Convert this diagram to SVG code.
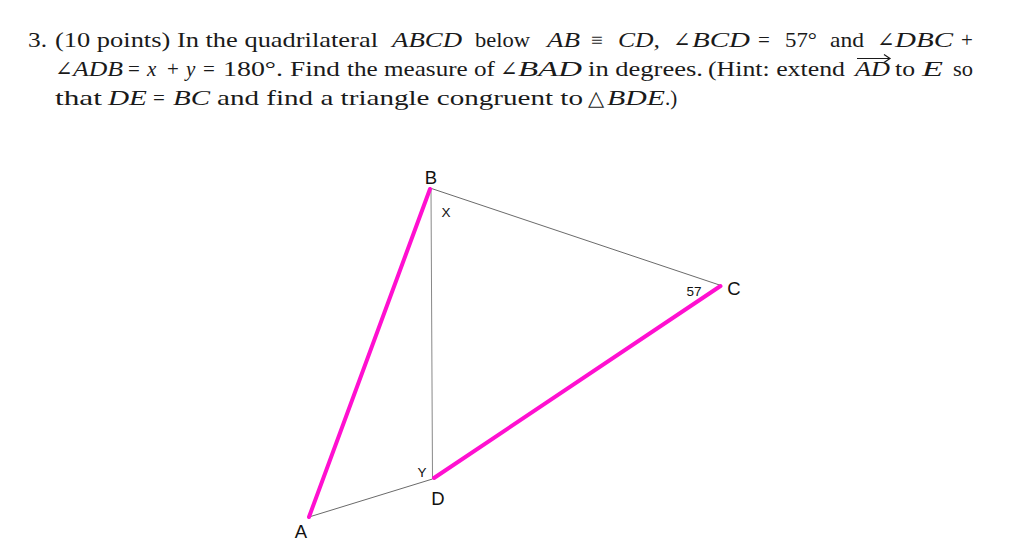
<svg xmlns="http://www.w3.org/2000/svg" width="1024" height="560" viewBox="0 0 1024 560">
<style>
.t{font-family:"Liberation Serif","DejaVu Serif",serif;font-size:21px;fill:#1a1a1a}
.i{font-style:italic}
.lb{font-family:"Liberation Sans",Arial,sans-serif;fill:#111;text-anchor:middle}
.big{font-size:18.5px}
.sm{font-size:13.5px}
.pink{stroke:#ff10d0;stroke-width:4;stroke-linecap:round;fill:none}
.thin{stroke:#444;stroke-width:0.8;fill:none}
</style>
<rect width="1024" height="560" fill="#fff"/>
<g id="problem-text">
<text class="t" y="47">
<tspan x="28" textLength="19" lengthAdjust="spacingAndGlyphs">3.</tspan>
<tspan x="55" textLength="323" lengthAdjust="spacingAndGlyphs">(10 points) In the quadrilateral</tspan>
<tspan x="392" class="i" textLength="70" lengthAdjust="spacingAndGlyphs">ABCD</tspan>
<tspan x="475" textLength="55" lengthAdjust="spacingAndGlyphs">below</tspan>
<tspan x="547" class="i" textLength="33" lengthAdjust="spacingAndGlyphs">AB</tspan>
<tspan x="591">≡</tspan>
<tspan x="618" class="i" textLength="42" lengthAdjust="spacingAndGlyphs">CD,</tspan>
<tspan x="673">∠</tspan><tspan x="692" class="i" textLength="58" lengthAdjust="spacingAndGlyphs">BCD</tspan>
<tspan x="758">=</tspan>
<tspan x="785" textLength="32" lengthAdjust="spacingAndGlyphs">57°</tspan>
<tspan x="830" textLength="34" lengthAdjust="spacingAndGlyphs">and</tspan>
<tspan x="877">∠</tspan><tspan x="895" class="i" textLength="58" lengthAdjust="spacingAndGlyphs">DBC</tspan>
<tspan x="961">+</tspan>
</text>
<text class="t" y="76">
<tspan x="55">∠</tspan><tspan x="73" class="i" textLength="50" lengthAdjust="spacingAndGlyphs">ADB</tspan>
<tspan x="128">=</tspan>
<tspan x="147" class="i">x</tspan>
<tspan x="167">+</tspan>
<tspan x="186" class="i">y</tspan>
<tspan x="203">=</tspan>
<tspan x="223" textLength="60" lengthAdjust="spacingAndGlyphs">180°.</tspan>
<tspan x="290" textLength="50" lengthAdjust="spacingAndGlyphs">Find</tspan>
<tspan x="347" textLength="148" lengthAdjust="spacingAndGlyphs">the measure of</tspan>
<tspan x="500">∠</tspan><tspan x="518" class="i" textLength="64" lengthAdjust="spacingAndGlyphs">BAD</tspan>
<tspan x="588" textLength="115" lengthAdjust="spacingAndGlyphs">in degrees.</tspan>
<tspan x="708" textLength="137" lengthAdjust="spacingAndGlyphs">(Hint: extend</tspan>
<tspan x="855" class="i" textLength="35" lengthAdjust="spacingAndGlyphs">AD</tspan>
<tspan x="895" textLength="20" lengthAdjust="spacingAndGlyphs">to</tspan>
<tspan x="922" class="i" textLength="21" lengthAdjust="spacingAndGlyphs">E</tspan>
<tspan x="953" textLength="20" lengthAdjust="spacingAndGlyphs">so</tspan>
</text>
<path d="M857 58.5 H889 M884 54.5 L890 58.5 L884 62.5" fill="none" stroke="#1a1a1a" stroke-width="1.2"/>
<text class="t" y="105">
<tspan x="55" textLength="47" lengthAdjust="spacingAndGlyphs">that</tspan>
<tspan x="108" class="i" textLength="39" lengthAdjust="spacingAndGlyphs">DE</tspan>
<tspan x="153">=</tspan>
<tspan x="173" class="i" textLength="37" lengthAdjust="spacingAndGlyphs">BC</tspan>
<tspan x="217" textLength="366" lengthAdjust="spacingAndGlyphs">and find a triangle congruent to</tspan>
<tspan x="588">△</tspan><tspan x="607" class="i" textLength="58" lengthAdjust="spacingAndGlyphs">BDE</tspan><tspan>.)</tspan>
</text>
</g>
<g id="connectors">
<line class="thin" x1="430" y1="188" x2="721" y2="285.5"/>
<line x1="431" y1="189" x2="432.5" y2="479" stroke="#888" stroke-width="1"/>
<line class="thin" x1="309" y1="517" x2="432.5" y2="479"/>
<line class="pink" x1="309" y1="517" x2="430" y2="189"/>
<line class="pink" x1="434" y1="478" x2="720.5" y2="286"/>
</g>
<g id="node-B"><text class="lb big" x="431" y="184">B</text></g>
<g id="node-C"><text class="lb big" x="734" y="295">C</text></g>
<g id="node-D"><text class="lb big" x="438" y="505">D</text></g>
<g id="node-A"><text class="lb big" x="301" y="538">A</text></g>
<g id="angle-labels">
<text class="lb sm" x="446" y="217">X</text>
<text class="lb sm" x="694" y="296">57</text>
<text class="lb sm" x="422" y="477">Y</text>
</g>
</svg>
